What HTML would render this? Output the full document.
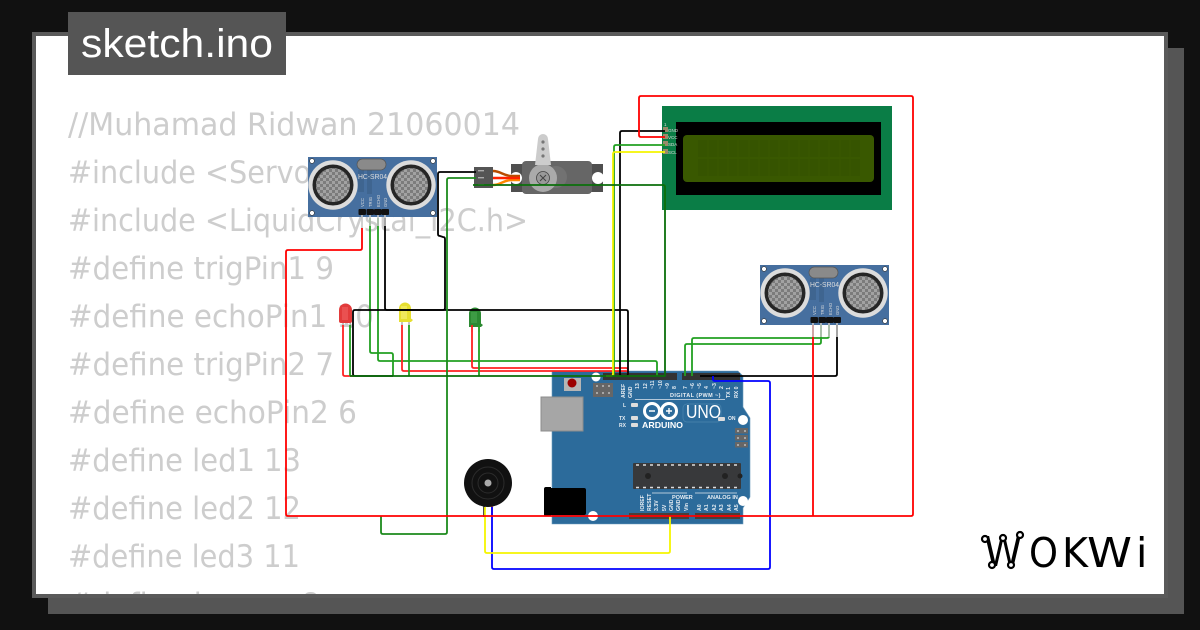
<!DOCTYPE html>
<html><head><meta charset="utf-8"><style>
html,body{margin:0;padding:0;background:#111;width:1200px;height:630px;overflow:hidden}
svg{display:block}
.c{font-family:"DejaVu Sans",sans-serif;font-size:31px;fill:#cdcdcd}
.w{fill:none;stroke-width:1.8;stroke-linejoin:round}
.t{font-family:"Liberation Sans",sans-serif;font-weight:bold;fill:#e8eef3}
.lg{font-family:"DejaVu Sans",sans-serif;font-size:41px;fill:#000}
</style></head><body>
<svg width="1200" height="630" viewBox="0 0 1200 630" xmlns="http://www.w3.org/2000/svg">
<defs>
<clipPath id="clip"><rect x="36" y="36" width="1128" height="558"/></clipPath>
<pattern id="chk" width="6" height="6" patternUnits="userSpaceOnUse"><rect width="6" height="6" fill="#7c7c7c"/><rect width="3" height="3" fill="#a2a2a2"/><rect x="3" y="3" width="3" height="3" fill="#a2a2a2"/></pattern>
<g id="e1"><circle cx="25" cy="28" r="24.7" fill="#dcdcdc"/><circle cx="25" cy="28" r="20.500" fill="#262626"/><circle cx="25" cy="28" r="17" fill="url(#chk)"/></g>
<g id="sr">
<rect x="0" y="0" width="129" height="60" fill="#466f9f"/>
<path d="M50 13v22h6V13zM59 13v24h5V13z" fill="#3f6590"/>
<rect x="49" y="2" width="29" height="11" rx="5.5" fill="#8a8a8a" stroke="#555" stroke-width=".7"/>
<use href="#e1"/>
<use href="#e1" x="78"/>
<circle cx="4" cy="4" r="2.4" fill="#fff" stroke="#333" stroke-width=".6"/><circle cx="125" cy="4" r="2.4" fill="#fff" stroke="#333" stroke-width=".6"/><circle cx="4" cy="56" r="2.4" fill="#fff" stroke="#333" stroke-width=".6"/><circle cx="125" cy="56" r="2.4" fill="#fff" stroke="#333" stroke-width=".6"/>
<text x="50" y="22" font-family="Liberation Sans,sans-serif" font-size="7" fill="#ddd" textLength="29" lengthAdjust="spacingAndGlyphs">HC-SR04</text>
<g font-family="Liberation Sans,sans-serif" font-size="4.2" fill="#ddd"><text transform="translate(56,50) rotate(-90)">VCC</text><text transform="translate(64,50) rotate(-90)">TRIG</text><text transform="translate(72,50) rotate(-90)">ECHO</text><text transform="translate(79,50) rotate(-90)">GND</text></g>
<g fill="#111"><rect x="50.500" y="52" width="7.500" height="6" rx="1"/><rect x="58.500" y="52" width="7.500" height="6" rx="1"/><rect x="66" y="52" width="7.500" height="6" rx="1"/><rect x="73.500" y="52" width="7.500" height="6" rx="1"/></g>
</g>
</defs>
<rect width="1200" height="630" fill="#111"/>
<rect x="48" y="48" width="1136" height="566" fill="#555"/>
<rect x="32" y="32" width="1136" height="566" fill="#5a5a5a"/>
<rect x="36" y="36" width="1128" height="558" fill="#fff"/>
<g clip-path="url(#clip)">
<text class="c" x="68" y="135" textLength="452" lengthAdjust="spacingAndGlyphs">//Muhamad Ridwan 21060014</text>
<text class="c" x="68" y="183" textLength="294" lengthAdjust="spacingAndGlyphs">#include &lt;Servo.h&gt;</text>
<text class="c" x="68" y="231" textLength="460" lengthAdjust="spacingAndGlyphs">#include &lt;LiquidCrystal_I2C.h&gt;</text>
<text class="c" x="68" y="279" textLength="266" lengthAdjust="spacingAndGlyphs">#define trigPin1 9</text>
<text class="c" x="68" y="327" textLength="306" lengthAdjust="spacingAndGlyphs">#define echoPin1 10</text>
<text class="c" x="68" y="375" textLength="266" lengthAdjust="spacingAndGlyphs">#define trigPin2 7</text>
<text class="c" x="68" y="423" textLength="289" lengthAdjust="spacingAndGlyphs">#define echoPin2 6</text>
<text class="c" x="68" y="471" textLength="233" lengthAdjust="spacingAndGlyphs">#define led1 13</text>
<text class="c" x="68" y="519" textLength="233" lengthAdjust="spacingAndGlyphs">#define led2 12</text>
<text class="c" x="68" y="567" textLength="232" lengthAdjust="spacingAndGlyphs">#define led3 11</text>
<text class="c" x="68" y="615" textLength="252" lengthAdjust="spacingAndGlyphs">#define buzzer 8</text>
</g>
<rect x="68" y="12" width="218" height="63" fill="#555"/>
<text x="81" y="57" font-family="Liberation Sans,sans-serif" font-size="40" fill="#fff" textLength="192" lengthAdjust="spacingAndGlyphs">sketch.ino</text>

<!-- Sensors -->
<use href="#sr" x="308" y="157"/>
<use href="#sr" x="760" y="265"/>

<!-- LCD -->
<rect x="662" y="106" width="230" height="104" fill="#0a7d46"/>
<rect x="676" y="122" width="205" height="73" fill="#000"/>
<rect x="683" y="135" width="191" height="47" rx="4" fill="#395800"/>
<g fill="#365400"><rect x="698" y="140" width="162" height="17"/><rect x="698" y="159" width="162" height="17"/></g>
<g stroke="#395800" stroke-width="1.4"><path d="M708 140v36M718 140v36M728 140v36M738 140v36M749 140v36M759 140v36M769 140v36M779 140v36M789 140v36M799 140v36M809 140v36M819 140v36M829 140v36M840 140v36M850 140v36"/></g>
<g fill="#998a6a"><rect x="663" y="127" width="5" height="5"/><rect x="663" y="134" width="5" height="5"/><rect x="663" y="141" width="5" height="5"/><rect x="663" y="149" width="5" height="5"/></g>
<g font-family="Liberation Sans,sans-serif" font-size="4.5" fill="#ddd"><text x="664" y="126">1</text><text x="668" y="132">GND</text><text x="668" y="139">VCC</text><text x="668" y="146">SDA</text><text x="668" y="154">SCL</text></g>

<!-- Servo -->
<rect x="511" y="164" width="92" height="28" fill="#4f4f4f"/>
<circle cx="516" cy="178" r="6" fill="#fff"/><circle cx="598" cy="178" r="6" fill="#fff"/>
<rect x="522" y="161" width="70" height="33" rx="4" fill="#666"/>
<circle cx="556" cy="177" r="11" fill="#727272"/>
<circle cx="543" cy="178" r="14" fill="#aaa"/>
<path d="M538 139a5 5 0 0 1 10 0l3 26h-16z" fill="#ccc"/>
<circle cx="543" cy="178" r="6.500" fill="#999" stroke="#444" stroke-width=".8"/>
<path d="M540 175l6 6M546 175l-6 6" stroke="#444"/>
<g fill="#777"><circle cx="543" cy="142" r="1.600"/><circle cx="543" cy="149" r="1.600"/><circle cx="543" cy="156" r="1.600"/></g>
<path d="M493 171c8 0 10 5 19 5h8" fill="none" stroke="#b84c00" stroke-width="2.400"/>
<path d="M493 185c8 0 10-5 19-5h8" fill="none" stroke="#f80" stroke-width="2.400"/>
<path d="M493 178h27" fill="none" stroke="#f20" stroke-width="2.400"/>
<rect x="474" y="167" width="19" height="21" fill="#555"/>
<g fill="#aaa"><rect x="478" y="170" width="6" height="1.400"/><rect x="478" y="177" width="6" height="1.400"/><rect x="478" y="184" width="6" height="1.400"/></g>

<!-- LEDs -->
<g stroke="#aaa" stroke-width="1.400" fill="none"><path d="M343 322v5M350 322l1 6M402 321v5M409 321v6M472 326v6M479 326v6"/></g>
<g>
<path d="M339 310a6.500 6.500 0 0 1 13 0v11a2 2 0 0 1-2 2h-9a2 2 0 0 1-2-2z" fill="#e23b3b"/><rect x="342" y="307" width="6" height="13" fill="#f06060" opacity=".6"/>
<path d="M399 308.500a6 6 0 0 1 12 0v10l2 1.500-2 2h-12z" fill="#e6df30"/><rect x="401" y="306" width="6" height="13" fill="#f5f07a" opacity=".6"/>
<path d="M469 313.500a6 6 0 0 1 12 0v10l2 1.500-2 2h-12z" fill="#2c8a32"/><rect x="471" y="312" width="6" height="11" fill="#4aa650" opacity=".6"/>
</g>

<!-- Arduino -->
<path d="M552 371H738L743 376V407L750 418V497L743 508V524H552Z" fill="#2c6b9b" stroke="#6d9cbd" stroke-width=".6"/>
<rect x="541" y="397" width="42" height="34" fill="#a6a6a6" stroke="#8c8c8c"/>
<rect x="564" y="378" width="17" height="13" fill="#b5b5b5"/><circle cx="572" cy="383" r="4.500" fill="#9c0000"/>
<circle cx="596" cy="377" r="4.500" fill="#fff"/>
<circle cx="743" cy="420" r="5" fill="#fff"/><circle cx="743" cy="501" r="5" fill="#fff"/><circle cx="593" cy="516" r="5" fill="#fff"/>
<rect x="593" y="383" width="20" height="14" fill="#666"/>
<g fill="#bbb"><circle cx="597" cy="386" r="1"/><circle cx="603" cy="386" r="1"/><circle cx="609" cy="386" r="1"/><circle cx="597" cy="393" r="1"/><circle cx="603" cy="393" r="1"/><circle cx="609" cy="393" r="1"/></g>
<g fill="#666"><rect x="735" y="428" width="13" height="5.500"/><rect x="735" y="435" width="13" height="5.500"/><rect x="735" y="442" width="13" height="5.500"/></g>
<g fill="#bbb"><circle cx="738" cy="431" r="1"/><circle cx="745" cy="431" r="1"/><circle cx="738" cy="438" r="1"/><circle cx="745" cy="438" r="1"/><circle cx="738" cy="445" r="1"/><circle cx="745" cy="445" r="1"/></g>
<rect x="603" y="373" width="74" height="7" fill="#333"/><rect x="682" y="373" width="58" height="7" fill="#333"/>
<rect x="629" y="513" width="60" height="6" fill="#4a3d38"/><rect x="695" y="513" width="45" height="6" fill="#4a3d38"/>
<rect x="633" y="463" width="108" height="26" rx="1" fill="#38393b"/>
<path d="M636 465H740" stroke="#ddd" stroke-width="1.400" stroke-dasharray="3 4"/><path d="M636 487.500H740" stroke="#ddd" stroke-width="1.400" stroke-dasharray="3 4"/>
<circle cx="648" cy="476" r="3" fill="#222"/><circle cx="725" cy="476" r="3" fill="#222"/><circle cx="740" cy="476" r="2.500" fill="#222"/>
<path d="M546 487h5v1h33a2 2 0 0 1 2 2v23a2 2 0 0 1-2 2h-33v1h-6a2 2 0 0 1-1-2v-25a2 2 0 0 1 2-2z" fill="#000"/>
<g fill="none" stroke="#fff" stroke-width="3"><circle cx="652" cy="411" r="7.500"/><circle cx="669" cy="411" r="7.500"/></g>
<g stroke="#fff" stroke-width="1.400"><path d="M649 411h6M666 411h6M669 408v6"/></g>
<text x="642" y="428" font-family="Liberation Sans,sans-serif" font-weight="bold" font-size="8.500" fill="#fff" textLength="41" lengthAdjust="spacingAndGlyphs">ARDUINO</text>
<text x="686" y="418" font-family="Liberation Sans,sans-serif" font-size="18" fill="#fff" textLength="35" lengthAdjust="spacingAndGlyphs">UNO</text>
<rect x="683" y="404" width="38" height="18" rx="4" fill="none" stroke="#4c86ae" stroke-width=".7"/>
<path d="M635 399.500H725M652 493H687M695 493H737" stroke="#dfe8ef" stroke-width=".8"/>
<g class="t" font-size="5.200">
<text x="670" y="397" font-size="5.500" letter-spacing=".4">DIGITAL (PWM ~)</text>
<text x="623" y="407" font-size="5">L</text><text x="619" y="420" font-size="5">TX</text><text x="619" y="427" font-size="5">RX</text><text x="728" y="420" font-size="5">ON</text>
<text x="672" y="499" font-size="5.500">POWER</text><text x="707" y="499" font-size="5.500">ANALOG IN</text>
<text transform="translate(625,398) rotate(-90)">AREF</text><text transform="translate(632,398) rotate(-90)">GND</text>
<text transform="translate(639,389) rotate(-90)">13</text><text transform="translate(647,389) rotate(-90)">12</text><text transform="translate(654,389) rotate(-90)">~11</text><text transform="translate(662,389) rotate(-90)">~10</text><text transform="translate(669,389) rotate(-90)">~9</text><text transform="translate(676,389) rotate(-90)">8</text>
<text transform="translate(687,389) rotate(-90)">7</text><text transform="translate(694,389) rotate(-90)">~6</text><text transform="translate(701,389) rotate(-90)">~5</text><text transform="translate(708,389) rotate(-90)">4</text><text transform="translate(716,389) rotate(-90)">~3</text><text transform="translate(723,389) rotate(-90)">2</text><text transform="translate(730,398) rotate(-90)">TX 1</text><text transform="translate(738,398) rotate(-90)">RX 0</text>
<text transform="translate(644,511) rotate(-90)">IOREF</text><text transform="translate(651,511) rotate(-90)">RESET</text><text transform="translate(658,511) rotate(-90)">3.3V</text><text transform="translate(666,511) rotate(-90)">5V</text><text transform="translate(673,511) rotate(-90)">GND</text><text transform="translate(680,511) rotate(-90)">GND</text><text transform="translate(688,511) rotate(-90)">Vin</text>
<text transform="translate(701,511) rotate(-90)">A0</text><text transform="translate(708,511) rotate(-90)">A1</text><text transform="translate(716,511) rotate(-90)">A2</text><text transform="translate(723,511) rotate(-90)">A3</text><text transform="translate(731,511) rotate(-90)">A4</text><text transform="translate(738,511) rotate(-90)">A5</text>
</g>
<g fill="#ddd"><rect x="631" y="403" width="7" height="4" rx="1"/><rect x="631" y="416" width="7" height="4" rx="1"/><rect x="631" y="423" width="7" height="4" rx="1"/><rect x="718" y="417" width="7" height="4" rx="1"/></g>

<!-- Buzzer -->
<path d="M484 505v12" stroke="#222" stroke-width="1.600"/><path d="M492 505v12" stroke="#d22" stroke-width="1.600"/>
<circle cx="488" cy="483" r="24" fill="#111"/><circle cx="488" cy="483" r="16" fill="none" stroke="#2c2c2c"/><circle cx="488" cy="483" r="10" fill="none" stroke="#2c2c2c"/><circle cx="488" cy="483" r="3.500" fill="#aaa"/>

<!-- Wires -->
<g class="w">
<path stroke="#22a022" d="M370 218V351q0 2 2 2H391q2 0 2 2V376"/>
<path stroke="#22a022" d="M378 218V359q0 2 2 2H655q2 0 2 2V376"/>
<path stroke="#f22" d="M402 325V369q0 2 2 2H626q2 0 2 2V376"/>
<path stroke="#f22" d="M472 325V366q0 2 2 2H626q2 0 2 2"/>
<path stroke="#f22" d="M343 325V374q0 2 2 2H354"/>
<path stroke="#22a022" d="M350 325V376M409 325V376M479 325V376"/>
<path stroke="#000" d="M385 218V308q0 2 2 2H443q2 0 2-2V239q0-2-2-2l-3-1q-2 0-2-2V174q0-2 2-2H476"/>
<path stroke="#000" d="M665 131H622q-2 0-2 2V374q0 2 2 2H626q2 0 2-2V312q0-2-2-2H355q-2 0-2 2V374q0 2 2 2H393"/>
<path stroke="#000" d="M837 325V374q0 2-2 2H700"/>
<path stroke="#22a022" d="M821 325V342q0 2-2 2H687q-2 0-2 2V376"/>
<path stroke="#22a022" d="M829 325V336q0 2-2 2H694q-2 0-2 2V376"/>
<path stroke="#22a022" d="M665 145H616q-2 0-2 2V376"/>
<path stroke="#f5f500" d="M665 152H615q-2 0-2 2V374q0 2-2 2H606"/>
<path stroke="#1c8a1c" d="M476 178H449q-2 0-2 2V532q0 2-2 2H383q-2 0-2-2V516"/>
<path stroke="#0b6f0b" d="M473 185H663q2 0 2 2V376H350"/>
<path stroke="#00f" d="M713 376V379q0 2 2 2H768q2 0 2 2V567q0 2-2 2H494q-2 0-2-2V507"/>
<path stroke="#f5f500" d="M485 507V551q0 2 2 2H668q2 0 2-2V516"/>
<path stroke="#f00" d="M362 228V248q0 2-2 2H288q-2 0-2 2V514q0 2 2 2H911q2 0 2-2V98q0-2-2-2H641q-2 0-2 2V135q0 2 2 2H665"/>
<path stroke="#f00" d="M813 325V516"/>
</g>
<path d="M362 215v13M370 215v11M378 215v11M385 215v11M813 323v14M821 323v14M829 323v14M837 323v14" stroke="#c4c4c4" stroke-width="1.600"/>

<!-- Wokwi logo -->
<text class="lg" x="984" y="566" textLength="38" lengthAdjust="spacingAndGlyphs">W</text>
<text class="lg" x="1029" y="567" textLength="29" lengthAdjust="spacingAndGlyphs">O</text>
<text class="lg" x="1062" y="567" textLength="26" lengthAdjust="spacingAndGlyphs">K</text>
<text class="lg" x="1087" y="567" textLength="45" lengthAdjust="spacingAndGlyphs">W</text>
<text class="lg" x="1136" y="567">i</text>
<g fill="#fff" stroke="#000" stroke-width="2.200"><circle cx="985" cy="539" r="3"/><circle cx="1020" cy="535" r="3"/><circle cx="1003" cy="538" r="3"/><circle cx="992" cy="565" r="3"/><circle cx="1011" cy="565" r="3"/></g>
</svg>
</body></html>
